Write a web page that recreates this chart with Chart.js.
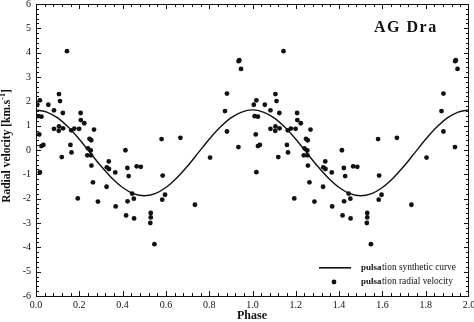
<!DOCTYPE html>
<html>
<head>
<meta charset="utf-8">
<script src="https://cdn.jsdelivr.net/npm/chart.js@4/dist/chart.umd.min.js"></script>
<style>
  html, body { margin: 0; padding: 0; background: #fff; }
  #wrap { position: relative; width: 474px; height: 322px; }
  #wrap canvas { position: absolute; left: 0; top: 0; }
  .box { position: absolute; box-sizing: border-box; border: 1px solid #111; pointer-events: none; }
  .tk { position: absolute; background: #111; pointer-events: none; }
</style>
</head>
<body>
<div id="wrap"><canvas id="rv" width="474" height="322"></canvas></div>
<script>
// Observed pulsation radial velocities, one cycle (phase 0..1)
const obsPhase = [
  0.006, 0.018, 0.010, 0.025, 0.015, 0.025, 0.034, 0.018,
  0.057, 0.083, 0.083, 0.106, 0.111, 0.106, 0.105, 0.125, 0.124, 0.143, 0.119, 0.159, 0.164, 0.163, 0.177, 0.193,
  0.199, 0.206, 0.207, 0.223, 0.268, 0.247, 0.255, 0.240, 0.253, 0.237, 0.254, 0.256, 0.263, 0.286,
  0.326, 0.327, 0.336, 0.337, 0.366, 0.368, 0.413, 0.416, 0.422, 0.428, 0.423, 0.444, 0.452, 0.453, 0.465, 0.484,
  0.530, 0.530, 0.528, 0.547,
  0.580, 0.585, 0.583, 0.596, 0.667, 0.734, 0.804, 0.873, 0.882, 0.882, 0.935, 0.936, 0.939, 0.947
];
const obsVel = [
  1.86, 2.04, 1.39, 1.37, 0.64, 0.16, 0.21, -0.91,
  1.86, 1.63, 0.87, 2.30, 2.01, 0.97, 0.79, 0.89, 1.52, 4.06, -0.29, 0.21, -0.10, 0.81, 0.88, -1.99,
  0.87, 1.52, 1.23, 1.10, 0.84, 0.46, 0.40, 0.07, -0.02, -0.22, -0.22, -0.64, -1.33, -2.12,
  -1.51, -0.71, -0.47, -0.78, -0.92, -2.32, -0.01, -2.69, -0.74, -1.07, -2.11, -1.79, -2.00, -2.81, -0.67, -0.69,
  -2.59, -2.77, -3.00, -3.87,
  0.45, -1.05, -2.04, -1.84, 0.50, -2.25, -0.31, 1.60, 2.32, 0.76, 0.12, 3.65, 3.69, 3.33
];

// Synthetic pulsation curve, one cycle
const curvePhase = [0, 0.05, 0.1, 0.15, 0.2, 0.25, 0.3, 0.35, 0.4, 0.45, 0.5,
                    0.55, 0.6, 0.65, 0.7, 0.75, 0.8, 0.85, 0.9, 0.95];
const curveVel   = [1.65, 1.56, 1.32, 0.93, 0.44, -0.11, -0.66, -1.15, -1.54, -1.79, -1.88,
                    -1.79, -1.54, -1.15, -0.66, -0.11, 0.44, 0.93, 1.32, 1.56];

const cycles = [0, 1];
const xTicks = [0, 0.2, 0.4, 0.6, 0.8, 1.0, 1.2, 1.4, 1.6, 1.8, 2.0];
const yTicks = [-6, -5, -4, -3, -2, -1, 0, 1, 2, 3, 4, 5, 6];

const SERIF = "'Liberation Serif', 'DejaVu Serif', serif";
const INK = "#111";

const obsPoints = cycles.flatMap(c => obsPhase.map((p, i) => ({ x: p + c, y: obsVel[i] })));
const curvePoints = cycles.flatMap(c => curvePhase.map((p, i) => ({ x: p + c, y: curveVel[i] })));
curvePoints.push({ x: 2.0, y: curveVel[0] });

// star name, legend and axis titles
const overlay = {
  id: "overlay",
  afterDraw(chart) {
    const ctx = chart.ctx;
    ctx.save();
    ctx.fillStyle = INK;
    ctx.textBaseline = "middle";
    ctx.textAlign = "left";
    ctx.font = `bold 16px ${SERIF}`;
    let tx = 374;
    for (const ch of "AG Dra") {
      ctx.fillText(ch, tx, 28);
      tx += ctx.measureText(ch).width + 1.5;
    }

    ctx.fillRect(319, 267, 32, 1.6);
    ctx.beginPath();
    ctx.arc(334, 282, 2.4, 0, Math.PI * 2);
    ctx.fill();
    const legendRow = (rest, yy) => {
      ctx.font = `bold 9px ${SERIF}`;
      ctx.fillText("pulsa", 361, yy);
      const w = ctx.measureText("pulsa").width;
      ctx.font = `9.4px ${SERIF}`;
      ctx.fillText(rest, 361 + w + 0.5, yy);
    };
    legendRow("tion synthetic curve", 268);
    legendRow("tion radial velocity", 282);

    ctx.font = `bold 12px ${SERIF}`;
    ctx.textAlign = "center";
    ctx.fillText("Phase", 252, 316);

    ctx.translate(7, 146);
    ctx.rotate(-Math.PI / 2);
    ctx.textAlign = "left";
    const head = "Radial velocity [km.s";
    const sup = "-1";
    ctx.font = `bold 11.5px ${SERIF}`;
    const headW = ctx.measureText(head).width;
    const closeW = ctx.measureText("]").width;
    ctx.font = `bold 8px ${SERIF}`;
    const supW = ctx.measureText(sup).width;
    let cx = -(headW + supW + closeW) / 2;
    ctx.font = `bold 11.5px ${SERIF}`;
    ctx.fillText(head, cx, 0);
    cx += headW;
    ctx.font = `bold 8px ${SERIF}`;
    ctx.fillText(sup, cx, -4);
    cx += supW;
    ctx.font = `bold 11.5px ${SERIF}`;
    ctx.fillText("]", cx, 0);
    ctx.restore();
  }
};

const chart = new Chart(document.getElementById("rv"), {
  type: "scatter",
  data: {
    datasets: [
      {
        label: "pulsation radial velocity",
        data: obsPoints,
        pointStyle: "circle",
        pointRadius: 2.4,
        pointBorderWidth: 0,
        backgroundColor: INK,
        borderColor: INK,
      },
      {
        label: "pulsation synthetic curve",
        data: curvePoints,
        showLine: true,
        pointRadius: 0,
        borderColor: INK,
        borderWidth: 1.4,
        cubicInterpolationMode: "monotone",
        fill: false,
      }
    ]
  },
  options: {
    responsive: false,
    animation: false,
    layout: { padding: { top: 4, right: 5, left: 0, bottom: 0 } },
    plugins: { legend: { display: false }, tooltip: { enabled: false } },
    scales: {
      x: {
        type: "linear", min: 0, max: 2,
        grid: { display: false, drawTicks: false },
        border: { display: false },
        afterBuildTicks: s => { s.ticks = xTicks.map(v => ({ value: v })); },
        afterFit: s => { s.height = 26; s.paddingLeft = 0; s.paddingRight = 0; },
        ticks: {
          color: INK, padding: 3, maxRotation: 0, autoSkip: false,
          font: { family: SERIF, size: 10 },
          callback: v => v.toFixed(1)
        }
      },
      y: {
        type: "linear", min: -6, max: 6,
        grid: { display: false, drawTicks: false },
        border: { display: false },
        afterBuildTicks: s => { s.ticks = yTicks.map(v => ({ value: v })); },
        afterFit: s => { s.width = 36; s.paddingTop = 0; s.paddingBottom = 0; },
        ticks: {
          color: INK, padding: 5, autoSkip: false,
          font: { family: SERIF, size: 10 },
          callback: v => String(v)
        }
      }
    }
  },
  plugins: [overlay]
});

// plot box and inward minor/major ticks, laid over the canvas from the scale positions
function addFrame(chart) {
  const wrap = document.getElementById("wrap");
  const sx = chart.scales.x, sy = chart.scales.y;
  const L = Math.round(sx.getPixelForValue(0));
  const R = Math.round(sx.getPixelForValue(2));
  const T = Math.round(sy.getPixelForValue(6));
  const B = Math.round(sy.getPixelForValue(-6));
  const el = (cls, l, t, w, h) => {
    const d = document.createElement("div");
    d.className = cls;
    Object.assign(d.style, { left: l + "px", top: t + "px", width: w + "px", height: h + "px" });
    wrap.appendChild(d);
  };
  el("box", L, T, R - L, B - T + 1);
  for (let i = 1; i < 50; i++) {
    const px = Math.round(sx.getPixelForValue(i * 0.04));
    const len = i % 5 === 0 ? 5 : 3;
    el("tk", px, B - len, 1, len);
    el("tk", px, T, 1, len);
  }
  for (let i = 1; i < 60; i++) {
    const py = Math.round(sy.getPixelForValue(-6 + i * 0.2));
    const len = i % 5 === 0 ? 5 : 3;
    el("tk", L, py, len, 1);
    el("tk", R - len, py, len, 1);
  }
}
addFrame(chart);
</script>
</body>
</html>
